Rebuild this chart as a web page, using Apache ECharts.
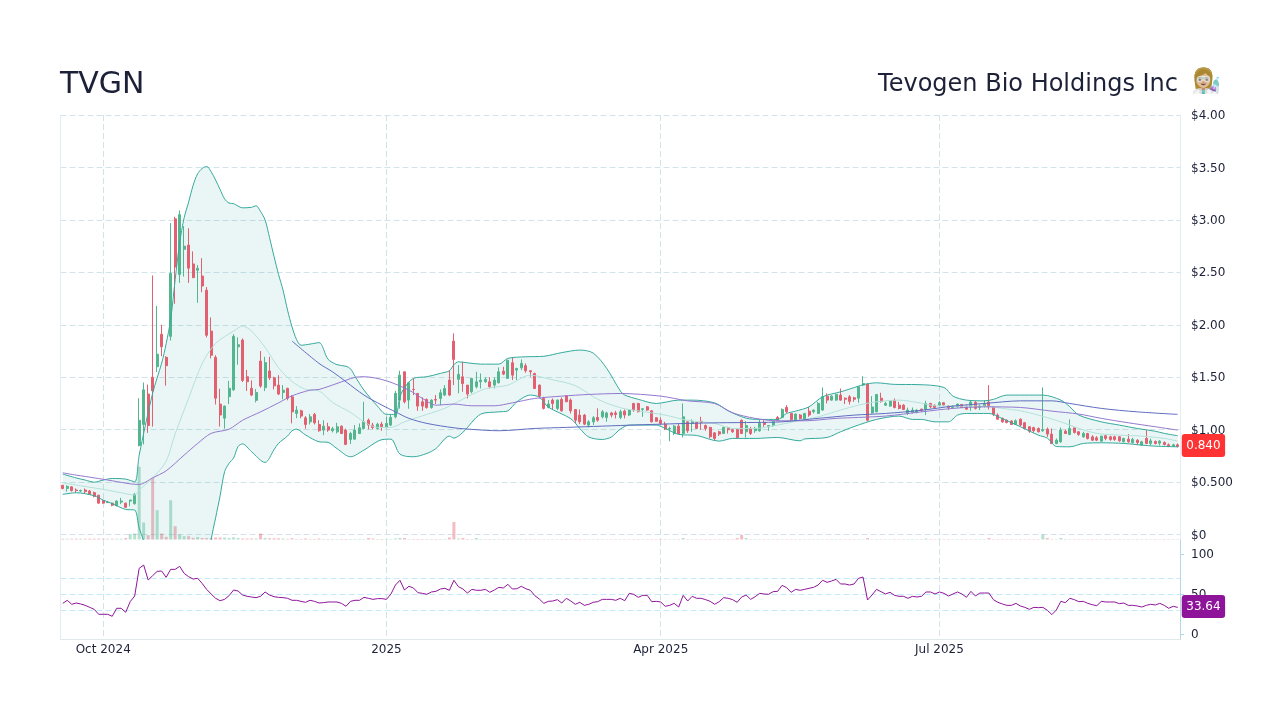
<!DOCTYPE html>
<html>
<head>
<meta charset="utf-8">
<style>html,body{margin:0;padding:0;background:#fff}#c{width:1280px;height:720px}</style>
<script src="https://cdn.jsdelivr.net/npm/echarts@6/dist/echarts.min.js"></script>
</head>
<body>
<div id="c"></div>
<script>
const symbol = 'TVGN';
const company = 'Tevogen Bio Holdings Inc';
const companyIcon = '👩🏼‍🔬';
const closedDays = ['2024-11-28','2024-12-24','2024-12-25','2025-01-01','2025-01-20','2025-02-17','2025-04-18','2025-05-26','2025-06-19','2025-07-04','2025-09-01'];
const firstDay = '2024-09-18';
const dateTicks = {9:'Oct 2024',72:'2025',133:'Apr 2025',195:'Jul 2025'};
const priceTicks = [0,0.5,1,1.5,2,2.5,3,3.5,4];
const priceTickLabels = ['$0','$0.500','$1.00','$1.50','$2.00','$2.50','$3.00','$3.50','$4.00'];
const rsiTicks = [0,50,100];
const rsiLevels = [30,50,70];

const opens = [.47,.44,.455,.425,.415,.425,.415,.40,.375,.325,
.305,.30,.275,.31,.30,.32,.295,.85,1.05,1.34,
1.50,1.60,1.91,1.69,1.89,3.01,2.48,2.72,2.76,2.58,
2.52,2.465,2.33,1.94,1.69,1.244,1.11,1.315,1.38,1.79,
1.855,1.505,1.394,1.28,1.654,1.40,1.56,1.495,1.425,1.355,
1.394,1.313,1.155,1.18,1.113,1.075,1.146,1.05,.996,1.028,
.99,.98,1.034,.996,.907,.91,.964,1.012,1.091,1.044,
1.012,1.053,1.02,1.044,1.123,1.282,1.552,1.282,1.385,1.346,
1.266,1.288,1.212,1.288,1.298,1.33,1.473,1.844,1.48,1.504,
1.425,1.362,1.409,1.457,1.457,1.457,1.425,1.447,1.558,1.489,
1.638,1.568,1.59,1.61,1.562,1.536,1.425,1.298,1.212,1.282,
1.203,1.288,1.323,1.282,1.193,1.139,1.139,1.044,1.075,1.117,
1.123,1.117,1.16,1.16,1.117,1.177,1.14,1.25,1.25,1.193,
1.218,1.18,1.114,1.09,1.053,1.006,.964,1.034,.964,1.075,
1.06,1.069,1.08,1.04,1.022,.97,.98,.964,1.018,1.0,
1.0,1.09,.98,1.012,.99,.99,1.069,1.03,1.04,1.117,
1.117,1.212,1.155,1.09,1.14,1.098,1.177,1.171,1.155,1.187,
1.32,1.282,1.282,1.33,1.30,1.314,1.304,1.30,1.425,1.435,
1.16,1.171,1.30,1.234,1.225,1.276,1.234,1.234,1.155,1.165,
1.165,1.196,1.193,1.25,1.234,1.234,1.257,1.225,1.212,1.218,
1.24,1.218,1.218,1.26,1.212,1.225,1.263,1.212,1.139,1.107,
1.091,1.082,1.05,1.10,1.066,1.028,1.02,1.012,.99,1.005,
.958,.869,.885,.986,.955,1.018,.98,.932,.964,.932,
.923,.891,.942,.932,.932,.932,.885,.91,.875,.90,
.853,.917,.869,.888,.872,.878,.856,.843,.856];
const closes = [.44,.46,.42,.42,.42,.41,.385,.365,.30,.30,
.31,.28,.32,.32,.26,.33,.385,1.09,1.38,1.04,
1.37,1.72,1.79,1.61,2.49,2.55,3.05,2.75,2.54,2.45,
2.54,2.37,1.90,1.71,1.30,1.14,1.225,1.395,1.89,1.81,
1.47,1.457,1.33,1.355,1.416,1.64,1.495,1.418,1.34,1.377,
1.30,1.17,1.187,1.13,1.05,1.123,1.066,.99,1.034,.996,
1.01,1.028,.964,.86,.964,.996,1.018,1.076,1.044,1.02,
1.053,1.028,1.06,1.117,1.346,1.52,1.266,1.447,1.383,1.225,
1.225,1.212,1.282,1.282,1.352,1.393,1.33,1.67,1.527,1.44,
1.34,1.489,1.457,1.473,1.48,1.409,1.473,1.552,1.53,1.663,
1.52,1.584,1.632,1.562,1.552,1.393,1.32,1.203,1.244,1.25,
1.282,1.18,1.266,1.18,1.091,1.075,1.053,1.075,1.114,1.091,
1.171,1.16,1.139,1.145,1.171,1.14,1.187,1.187,1.171,1.20,
1.187,1.075,1.08,1.06,1.006,1.012,1.034,.964,1.123,.99,
1.075,1.012,1.069,1.012,.933,.917,.958,1.022,1.0,.98,
.926,.964,1.04,.964,1.012,1.06,1.05,1.04,1.075,1.09,
1.193,1.171,1.098,1.149,1.107,1.155,1.14,1.187,1.25,1.314,
1.282,1.32,1.336,1.282,1.29,1.27,1.29,1.41,1.44,1.09,
1.217,1.336,1.27,1.25,1.276,1.212,1.203,1.193,1.187,1.187,
1.187,1.187,1.25,1.218,1.212,1.257,1.237,1.212,1.225,1.244,
1.212,1.196,1.263,1.203,1.225,1.25,1.218,1.148,1.10,1.075,
1.069,1.05,1.085,1.044,1.012,.986,.99,.98,1.002,.958,
.869,.90,.996,.964,1.012,.974,.955,.964,.917,.90,
.90,.939,.917,.907,.907,.894,.917,.885,.907,.878,
.885,.869,.894,.869,.891,.859,.843,.856,.84];
const lows = [.43,.41,.41,.40,.405,.39,.38,.355,.295,.295,
.30,.27,.27,.29,.255,.27,.285,.84,.86,.97,
1.03,1.55,1.70,1.42,1.85,2.20,2.40,2.46,2.40,2.445,
2.21,2.31,1.88,1.68,1.24,1.03,1.01,1.244,1.37,1.62,
1.455,1.37,1.32,1.26,1.40,1.368,1.473,1.384,1.33,1.29,
1.28,1.06,1.11,1.11,1.01,1.05,1.05,.98,.948,.98,
.974,.964,.958,.853,.863,.907,.958,1.003,1.003,1.003,
1.003,.99,1.012,1.034,1.107,1.2,1.25,1.2,1.33,1.18,
1.18,1.2,1.2,1.244,1.234,1.32,1.32,1.425,1.346,1.362,
1.298,1.346,1.393,1.393,1.447,1.393,1.393,1.441,1.52,1.489,
1.473,1.473,1.568,1.543,1.505,1.387,1.298,1.193,1.203,1.193,
1.187,1.171,1.266,1.155,1.06,1.053,1.044,1.022,1.044,1.075,
1.107,1.076,1.117,1.107,1.10,1.107,1.13,1.171,1.165,1.123,
1.18,1.069,1.076,1.044,.996,.89,.948,.958,.926,.97,
.98,1.006,1.0,.99,.917,.90,.94,.958,.964,.97,
.92,.958,.926,.95,.97,.98,1.028,.99,1.028,1.08,
1.107,1.16,1.082,1.082,1.098,1.09,1.123,1.155,1.149,1.18,
1.25,1.276,1.276,1.276,1.244,1.24,1.266,1.257,1.416,1.08,
1.155,1.165,1.257,1.225,1.219,1.203,1.193,1.187,1.14,1.155,
1.155,1.17,1.139,1.203,1.203,1.228,1.228,1.187,1.203,1.212,
1.209,1.187,1.18,1.193,1.187,1.212,1.193,1.13,1.098,1.066,
1.06,1.044,1.044,1.034,1.002,.97,.974,.974,.98,.932,
.862,.862,.875,.958,.948,.964,.942,.923,.907,.894,
.891,.885,.90,.894,.894,.885,.878,.875,.869,.853,
.847,.862,.853,.859,.85,.85,.834,.834,.83];
const highs = [.475,.47,.46,.44,.43,.44,.425,.41,.38,.33,
.32,.305,.325,.35,.305,.33,.395,1.30,1.45,1.43,
2.47,2.18,2.00,1.70,2.97,3.03,3.09,2.94,2.92,2.70,
2.57,2.635,2.36,2.07,1.71,1.39,1.23,1.466,1.91,1.88,
1.87,1.57,1.47,1.387,1.75,1.695,1.695,1.505,1.52,1.425,
1.40,1.33,1.225,1.19,1.13,1.15,1.16,1.09,1.09,1.066,
1.028,1.066,1.04,1.01,.98,1.044,1.06,1.266,1.107,1.066,
1.066,1.075,1.123,1.14,1.37,1.562,1.552,1.457,1.488,1.346,
1.308,1.298,1.29,1.33,1.384,1.425,1.568,1.918,1.616,1.648,
1.425,1.489,1.552,1.536,1.5,1.5,1.5,1.594,1.6,1.663,
1.689,1.59,1.67,1.632,1.568,1.543,1.43,1.314,1.282,1.298,
1.288,1.308,1.33,1.298,1.193,1.193,1.15,1.09,1.13,1.203,
1.187,1.171,1.171,1.18,1.19,1.193,1.193,1.257,1.257,1.203,
1.225,1.187,1.117,1.117,1.075,1.028,1.044,1.06,1.25,1.08,
1.098,1.075,1.123,1.05,1.028,.976,.99,1.028,1.028,1.012,
1.012,1.098,1.082,1.028,1.028,1.098,1.09,1.044,1.082,1.13,
1.203,1.234,1.16,1.155,1.149,1.16,1.218,1.193,1.266,1.403,
1.346,1.33,1.346,1.393,1.308,1.33,1.314,1.416,1.51,1.44,
1.32,1.34,1.352,1.266,1.282,1.298,1.266,1.244,1.21,1.212,
1.193,1.20,1.276,1.257,1.24,1.272,1.263,1.234,1.234,1.25,
1.244,1.234,1.282,1.276,1.24,1.282,1.425,1.212,1.155,1.117,
1.098,1.091,1.098,1.107,1.075,1.034,1.028,1.021,1.403,1.021,
1.012,.916,1.021,1.002,1.098,1.021,.986,.98,.97,.948,
.939,.942,.948,.942,.942,.939,.923,.958,.923,.91,
.894,.996,.916,.897,.90,.888,.869,.866,.869];
const volumes = [.8,.8,.8,.8,.8,.8,.8,.8,.8,.8,
.8,.8,.8,.8,1.5,5.3,6,72.7,17,4.3,
61.7,29.3,6,2.7,39.3,13.3,5,3.3,3.3,1.7,
2.5,1.5,1.5,1.5,2,2,2,1.5,2.2,1.5,
1,1,1,1,6,1.5,1.2,1.2,1.2,1,
.6,1.2,.5,.5,1,.5,.5,1,.5,.5,
.5,.5,.5,.5,.5,.5,.5,.5,1.5,1,
.5,.5,.5,.5,1,1.5,1.5,.5,.5,.5,
.5,.5,.5,.5,.5,.5,2,17.5,1,1.5,
.5,.5,1.5,.5,.5,.5,.5,.5,.5,.5,
.4,.4,.4,.4,.4,.4,.4,.4,.4,.4,
.4,.4,.4,.4,.4,.4,.4,.4,.4,.4,
.4,.4,.4,.4,.4,.4,.4,.4,.4,.4,
.4,.4,.4,.4,.4,.4,.4,.4,1.5,.4,
.4,.4,.4,.4,.4,.4,.4,.4,.4,.4,
1.5,4.5,1.5,.4,.4,.4,.4,.4,.4,.4,
.4,.4,.4,.4,.4,.4,.4,.4,.4,.4,
.4,.4,.4,.4,.4,.4,.4,.4,.4,1.5,
.4,.4,.4,.4,.4,.4,.4,.4,.4,.4,
.4,.4,1,.4,.4,.4,.4,.4,.4,.4,
.4,.4,.4,.4,.4,.4,1.5,.4,.4,.4,
.4,.4,.4,.4,.4,.4,.4,.4,5,1.5,
.4,.4,1.5,.4,.4,.4,.4,.4,.4,.4,
.4,.4,.4,.4,.4,.4,.4,.4,.4,.4,
.4,.4,.4,.4,.4,.4,.4,.4,.4];
const rsi = [38.7,42.5,37.5,39.1,37.9,36.2,33.7,31.2,25,25,
25,22.5,32.5,32.5,27.5,40.8,47.9,82.5,86.6,67.9,
73.3,78.7,79.1,71.2,81.2,81.2,85,76.2,72,69.1,
70,63.7,56.2,50.4,45,42,43.7,48.3,55.4,54.1,
49.1,47.5,46.6,45.8,47.5,52.9,49.1,47,46.2,45.8,
45,42.5,42.5,41.2,40,42.5,41.2,39.1,39.6,40.4,
40.4,40.4,38.7,35,41.2,42.5,42.5,46.2,45,43.7,
44.6,44.6,43.7,50.4,61.6,67.5,55.4,60,57.9,52,
51.2,50,52.9,53.7,56.6,57.5,55,67.5,59.6,56.6,
51.6,56.2,55,55,56.2,52.5,55.4,58.7,57.9,62.5,
56.6,57,60,57,55,48.3,44.1,38.7,41.2,41.6,
43.3,39.1,45,41.6,37.5,40,36.2,37.5,40,40.8,
43.7,43.7,43.7,42.5,45,42,51.2,50,46.2,48.7,
48.7,40.8,41.2,40.4,35,36.2,38.7,34.1,48.7,41.6,
47.5,45,45,43.3,41.2,37.5,40.8,45.8,45,43.3,
40,46.6,49.1,43.7,47,51.2,50.4,50,53.3,53.7,
61.2,58.3,52.5,56.2,55,56.2,57.5,58.7,61.6,67.5,
65,66.6,68.7,62.9,62.9,61.6,62.9,70,71.6,42.9,
49.1,56.2,53.3,50.4,52.5,48.7,47.5,47.5,45,47.5,
46.6,47.5,52.9,52.9,50.4,52.9,51.2,47.9,50.4,52.9,
50.4,46.2,53.7,47.9,51.6,51.6,51.6,43.3,40,37.9,
36.2,36.2,38.7,35.4,33.7,31.2,33.7,33.3,33.7,30,
24.6,30.4,41.2,39.6,45,43.3,40.8,41.2,38.7,37,
35.8,41.2,40.4,40.4,40.4,38.3,39.1,36.2,36.2,35.4,
34.1,36.2,37.5,36.6,38.7,36.2,32.5,35,33.64];
const bollUpper = [[0,.577],[3,.54],[5,.52],[7,.50],[9,.52],[11,.535],[14,.529],[16,.503],[17,.758],[20,1.349],[22,1.635],[23,1.82],[24,2.05],[25,2.43],[26,2.78],[27,3.02],[28,3.17],[29,3.33],[30,3.44],[31,3.49],[32,3.51],[33,3.46],[34,3.38],[35,3.29],[36,3.20],[37,3.16],[38,3.155],[40,3.115],[42,3.12],[43,3.135],[44,3.08],[45,3.0],[46,2.83],[47,2.65],[48,2.48],[49,2.33],[50,2.14],[51,1.98],[52,1.86],[53,1.805],[55,1.816],[57,1.83],[59,1.672],[61,1.62],[63,1.605],[64,1.58],[65,1.51],[67,1.377],[70,1.225],[72,1.146],[74,1.146],[75,1.314],[76,1.40],[78,1.489],[81,1.505],[84,1.537],[86,1.562],[87,1.62],[88,1.647],[90,1.638],[93,1.625],[97,1.625],[99,1.68],[103,1.695],[107,1.70],[111,1.735],[115,1.759],[118,1.73],[121,1.584],[124,1.37],[125,1.33],[128,1.29],[132,1.25],[137,1.282],[140,1.282],[145,1.256],[148,1.18],[152,1.11],[155,1.098],[159,1.098],[161,1.155],[163,1.177],[166,1.218],[169,1.314],[173,1.361],[177,1.415],[178,1.43],[181,1.447],[185,1.432],[190,1.43],[196,1.403],[198,1.32],[201,1.282],[205,1.275],[207,1.289],[210,1.33],[214,1.33],[218,1.33],[222,1.282],[224,1.218],[226,1.139],[231,1.075],[235,1.044],[239,1.012],[243,.985],[245,.965],[248,.942]];
const bollLower = [[0,.383],[3,.399],[7,.37],[9,.329],[11,.295],[14,.24],[16,.234],[17,.06],[18,-.06],[20,-.4],[24,-.9],[28,-1.0],[31,-.6],[33,-.05],[34,.16],[35,.37],[36,.60],[37,.68],[38,.73],[39,.84],[40,.865],[42,.79],[45,.688],[47,.81],[48,.87],[50,.94],[51,.99],[52,1.005],[54,.95],[57,.885],[59,.879],[61,.82],[64,.742],[67,.806],[71,.905],[73,.91],[75,.767],[78,.742],[81,.774],[83,.82],[86,.939],[87,.92],[89,.975],[93,1.149],[97,1.17],[99,1.18],[101,1.266],[104,1.33],[106,1.31],[108,1.215],[113,1.105],[115,1.012],[117,.93],[120,.907],[122,.93],[124,1.005],[126,1.044],[132,1.044],[134,1.012],[137,.955],[141,.945],[146,.891],[149,.917],[154,.917],[159,.926],[164,.894],[165,.912],[170,.926],[173,.98],[176,1.03],[181,1.098],[186,1.13],[189,1.098],[191,1.098],[194,1.075],[197,1.075],[199,1.139],[201,1.155],[206,1.155],[209,1.105],[213,1.028],[217,.948],[219,.92],[221,.84],[224,.837],[227,.869],[231,.875],[236,.869],[240,.853],[243,.843],[248,.837]];
const bollMiddle = [[0,.494],[4,.465],[9,.431],[13,.399],[16,.377],[17,.424],[20,.54],[23,.70],[25,.96],[28,1.30],[31,1.63],[34,1.823],[38,1.94],[40,1.988],[42,1.94],[45,1.785],[48,1.59],[51,1.46],[54,1.385],[57,1.37],[60,1.26],[64,1.165],[67,1.075],[70,1.022],[73,1.022],[76,1.075],[81,1.146],[85,1.205],[90,1.314],[94,1.39],[99,1.425],[104,1.52],[108,1.485],[114,1.42],[119,1.29],[124,1.21],[128,1.18],[134,1.139],[139,1.09],[145,1.06],[149,1.012],[154,1.012],[159,1.044],[164,1.09],[168,1.123],[173,1.187],[177,1.234],[181,1.266],[186,1.282],[190,1.26],[195,1.225],[200,1.225],[205,1.225],[209,1.203],[213,1.18],[217,1.139],[222,1.075],[226,1.012],[230,.965],[235,.948],[240,.939],[245,.917],[248,.891]];
const sma50 = [[0,.589],[3,.567],[7,.541],[11,.513],[15,.484],[17,.478],[20,.541],[23,.608],[27,.758],[30,.869],[33,.965],[37,1.005],[40,1.09],[44,1.17],[48,1.256],[51,1.323],[55,1.377],[57,1.384],[61,1.441],[65,1.499],[67,1.505],[72,1.466],[77,1.377],[80,1.298],[83,1.234],[87,1.244],[91,1.228],[96,1.228],[100,1.256],[105,1.298],[111,1.32],[117,1.336],[124,1.345],[133,1.32],[139,1.275],[145,1.25],[149,1.161],[154,1.108],[159,1.085],[165,1.085],[172,1.108],[177,1.117],[183,1.13],[191,1.17],[198,1.203],[205,1.218],[213,1.212],[220,1.177],[226,1.149],[231,1.108],[237,1.066],[243,1.028],[248,.996]];
const sma200 = [[51,1.845],[57,1.632],[60,1.552],[63,1.457],[67,1.33],[71,1.234],[74,1.17],[77,1.108],[81,1.06],[87,1.018],[91,1.003],[97,.99],[105,1.012],[112,1.022],[120,1.034],[124,1.04],[131,1.05],[139,1.06],[146,1.066],[154,1.069],[160,1.075],[168,1.108],[176,1.139],[183,1.155],[191,1.185],[198,1.225],[205,1.25],[213,1.275],[220,1.275],[224,1.25],[231,1.203],[239,1.17],[248,1.146]];

const categories = [];
for (let d = new Date(firstDay + 'T00:00:00Z'); categories.length < opens.length; d.setUTCDate(d.getUTCDate() + 1)) {
  const s = d.toISOString().slice(0, 10), w = d.getUTCDay();
  if (w !== 0 && w !== 6 && !closedDays.includes(s)) categories.push(s);
}
const last = opens.length - 1;
const UP = '#54b68e', DOWN = '#e2606f', BAND = '#35a99c', DARK = '#1d2138', GRIDC = '#d2e4e9', EDGE = '#e3edf3';
const font = '"DejaVu Sans", "Noto Color Emoji", sans-serif';
const isTick = i => dateTicks[i] !== undefined;
const dash = {type: [6, 3], color: GRIDC, width: 1};
const tickRich = {t: {color: DARK, fontSize: 12, fontFamily: font, padding: [2, 0, 0, 0]}};
const xBase = g => ({
  type: 'category', gridIndex: g, data: categories,
  axisTick: {show: false, alignWithLabel: true, interval: isTick},
  splitLine: {show: true, alignWithLabel: true, interval: isTick, lineStyle: dash}
});
const smoothLine = (name, data, color, width) => ({
  type: 'line', name, data, xAxisIndex: 0, yAxisIndex: 0, showSymbol: false, symbol: 'none',
  smooth: 0.3, z: 4, silent: true, lineStyle: {color, width}
});
const badge = (value, x, bg, text, yAxisIndex, xAxisIndex, offsetY) => ({
  type: 'scatter', data: [[x, value]], xAxisIndex, yAxisIndex, symbolSize: 0, z: 9, silent: true,
  itemStyle: {opacity: 1},
  label: {show: true, opacity: 1, position: 'right', distance: 4, offset: [0, offsetY], formatter: text, color: '#fff',
    backgroundColor: bg, borderRadius: 3, fontSize: 12, fontFamily: font, padding: [6, 4.5, 5, 4.5], lineHeight: 12}
});

const option = {
  animation: false,
  textStyle: {fontFamily: font},
  title: [
    {text: symbol, left: 60, top: 70, padding: 0, textStyle: {fontSize: 30, fontWeight: 'normal', color: DARK, fontFamily: font}},
    {text: company, right: 102, top: 73, padding: 0, textStyle: {fontSize: 24, fontWeight: 'normal', color: DARK, fontFamily: font}},
    {text: companyIcon, right: 59, top: 71, padding: 0, textStyle: {fontSize: 24, fontWeight: 'normal', color: DARK, fontFamily: font}}
  ],
  grid: [
    {left: 60.5, right: 100, top: 115, height: 424.5},
    {left: 60.5, right: 100, top: 540, height: 99.5}
  ],
  xAxis: [
    Object.assign(xBase(0), {axisLine: {show: false, onZero: false}, axisLabel: {show: false}}),
    Object.assign(xBase(1), {axisLine: {show: true, onZero: false, lineStyle: {color: '#dfe9ec'}},
      axisLabel: {show: true, interval: isTick, margin: 4, color: DARK, fontSize: 12, fontFamily: font,
        formatter: (v, i) => dateTicks[i] || ''}})
  ],
  yAxis: [
    {type: 'value', gridIndex: 0, position: 'right', min: -0.0467, max: 4, scale: false,
      axisLine: {show: true, lineStyle: {color: EDGE}}, axisTick: {show: false, customValues: priceTicks},
      splitLine: {show: true, lineStyle: dash},
      axisLabel: {show: true, customValues: priceTicks, margin: 11, color: DARK, fontSize: 12, fontFamily: font, rich: tickRich,
        formatter: v => '{t|' + priceTickLabels[priceTicks.indexOf(v)] + '}'}},
    {type: 'value', gridIndex: 0, position: 'left', min: 0, max: 424.5,
      axisLine: {show: true, lineStyle: {color: EDGE}}, axisTick: {show: false}, axisLabel: {show: false}, splitLine: {show: false}},
    {type: 'value', gridIndex: 1, position: 'right', min: -6.5, max: 117.9,
      axisLine: {show: true, lineStyle: {color: '#b5d6e3'}},
      axisTick: {show: true, length: 4, customValues: rsiTicks, lineStyle: {color: '#b5d6e3'}},
      splitLine: {show: false},
      axisLabel: {show: true, customValues: rsiTicks, margin: 11, color: DARK, fontSize: 12, fontFamily: font, rich: tickRich,
        formatter: v => '{t|' + v + '}'}},
    {type: 'value', gridIndex: 1, position: 'left', min: -6.5, max: 117.9,
      axisLine: {show: true, lineStyle: {color: EDGE}}, axisLabel: {show: false},
      axisTick: {show: false, customValues: rsiLevels},
      splitLine: {show: true, lineStyle: {type: [6, 3], color: '#c6ebf8', width: 1}}}
  ],
  series: [
    {type: 'bar', name: 'Volume', xAxisIndex: 0, yAxisIndex: 1, barWidth: 3, z: 1, silent: true,
      data: volumes.map((v, i) => ({value: v, itemStyle: {color: closes[i] >= opens[i] ? UP : DOWN, opacity: 0.42}}))},
    {type: 'custom', name: 'Bollinger band', xAxisIndex: 0, yAxisIndex: 0, clip: true, silent: true, z: 2,
      data: [[0, 0]],
      renderItem: (params, api) => ({
        type: 'polygon',
        shape: {points: bollUpper.concat(bollLower.slice().reverse()).map(p => api.coord(p))},
        style: {fill: 'rgba(38,166,154,0.10)'}
      })},
    {type: 'candlestick', name: symbol, xAxisIndex: 0, yAxisIndex: 0, barWidth: 2.5, z: 3, silent: true,
      data: opens.map((o, i) => [o, closes[i], lows[i], highs[i]]),
      itemStyle: {color: UP, color0: DOWN, borderColor: UP, borderColor0: DOWN, borderWidth: 1}},
    smoothLine('Bollinger middle', bollMiddle, '#b4e0da', 1),
    smoothLine('Bollinger upper', bollUpper, BAND, 1),
    smoothLine('Bollinger lower', bollLower, BAND, 1),
    smoothLine('SMA 50', sma50, '#9378cf', 1),
    smoothLine('SMA 200', sma200, '#5f6cc0', 1),
    {type: 'line', name: 'RSI', xAxisIndex: 1, yAxisIndex: 2, data: rsi, showSymbol: false, symbol: 'none', z: 4, silent: true,
      lineStyle: {color: '#8e1599', width: 1}},
    badge(closes[last], last, '#ff3333', closes[last].toFixed(3), 0, 0, -1),
    badge(rsi[last], last, '#8e1599', rsi[last].toFixed(2), 2, 1, -1)
  ]
};
echarts.init(document.getElementById('c'), null, {renderer: 'canvas'}).setOption(option);
</script>
</body>
</html>
